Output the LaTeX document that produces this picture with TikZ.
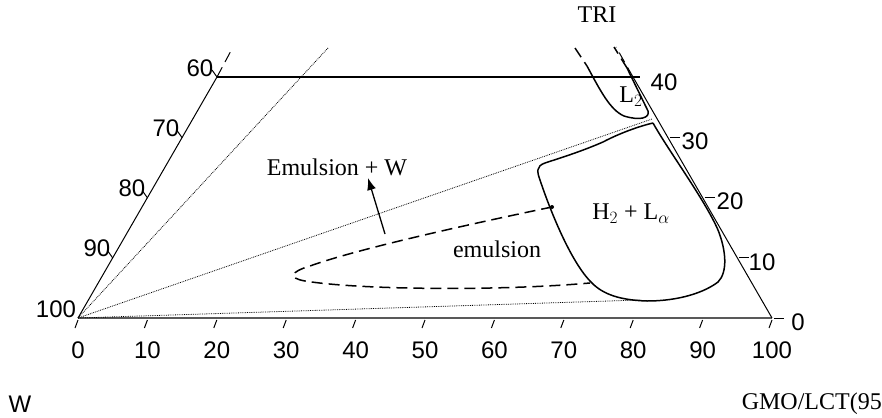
\documentclass[tikz,border=0pt]{standalone}
\usepackage{fontspec}
\usetikzlibrary{arrows.meta}
\setmainfont{Liberation Serif}
\setsansfont{Liberation Sans}
\begin{document}
\begin{tikzpicture}[x=1pt,y=-1pt,
  num/.style={font=\sffamily\fontsize{24}{26}\selectfont, inner sep=0pt},
  lab/.style={font=\fontsize{24}{26}\selectfont, inner sep=0pt},
  bnd/.style={line width=1.5pt},
  dsh/.style={dash pattern=on 11pt off 6pt},
  dotl/.style={densely dotted, line width=0.8pt},
  axl/.style={line width=1pt}]
\useasboundingbox (0,0) rectangle (882,417);
\coordinate (O) at (78,318);
\coordinate (R) at (772,318);
\coordinate (TL) at (217,77);
\coordinate (TR) at (633,77);
% axes
\draw[line width=2pt, gray!70!black] (O) -- (R);
\draw[axl] (O) -- (TL);
\draw[line width=1.5pt] (TL) -- (640,77);
\draw[axl] (R) -- (TR);
\draw[axl, dsh] (TL) -- (233,47);
\draw[axl, dsh] (TR) -- (616,47);
% ticks
\foreach \k in {0,...,10}{
  \draw[axl] (78+69.4*\k,320) -- ++(-3,8);
  \node[num] at (78+69.4*\k,350) {\pgfmathparse{int(10*\k)}\pgfmathresult};
}
\foreach \t in {0,10,20,30}{
  \draw[axl] (772-3.47*\t+2,318-6.01*\t) -- ++(10,0);
}
\foreach \t in {10,20,30}{
  \draw[axl] (78+3.47*\t,318-6.01*\t) -- ++(-5,-7);
}
\draw[axl] (217,77) -- ++(-5,-7);
\node[num] at (56,309) {100};
\node[num] at (97,248) {90};
\node[num] at (132,188) {80};
\node[num] at (166,128) {70};
\node[num] at (200,68) {60};
\node[num] at (664,82) {40};
\node[num] at (695,141) {30};
\node[num] at (730,201) {20};
\node[num] at (762,262) {10};
\node[num] at (798,322) {0};
\node[num] at (20,404) {W};
\node[lab, anchor=east] at (882,404) {GMO/LCT(95};
\node[lab] (tri) at (597,15) {TRI};
% dotted rays
\draw[dotl] (O) -- (328,48);
\draw[dotl] (O) -- (652,119);
\draw[dotl] (O) -- (640,300);
% L2 region
\draw[bnd, dsh] (575,48) -- (587,66);
\draw[bnd] (587,66) .. controls (600,90) and (610,110) .. (624,116)
  .. controls (640,121) and (650,118) .. (648,111) -- (627,68);
\draw[bnd, dsh] (627,68) -- (614,47);
% H2 + La region
\draw[bnd] (653,123) .. controls (640,126) and (620,133) .. (603,142)
  .. controls (580,152) and (560,158) .. (545,163)
  .. controls (536,166) and (537,172) .. (540,180)
  .. controls (550,210) and (570,260) .. (590,281)
  .. controls (600,292) and (615,300) .. (647,301)
  .. controls (680,301) and (705,292) .. (718,282)
  .. controls (728,272) and (726,250) .. (718,230)
  .. controls (705,200) and (668,150) .. (653,123);
% emulsion dashed
\draw[bnd, dsh] (552,207) .. controls (480,222) and (360,248) .. (310,266)
  .. controls (290,272) and (288,278) .. (305,281)
  .. controls (360,290) and (500,291) .. (590,283);
\fill (552,207) circle (2);
% arrow
\draw[line width=1.3pt, -{Latex[length=12pt,width=9pt]}] (385,234) -- (368,178);
\node[lab] at (337,167) {Emulsion + W};
\node[lab] at (497,249) {emulsion};
\node[lab] at (631,214) {H$_2$ + L$_\alpha$};
\node[lab] at (631,97) {L$_2$};
\end{tikzpicture}
\end{document}
